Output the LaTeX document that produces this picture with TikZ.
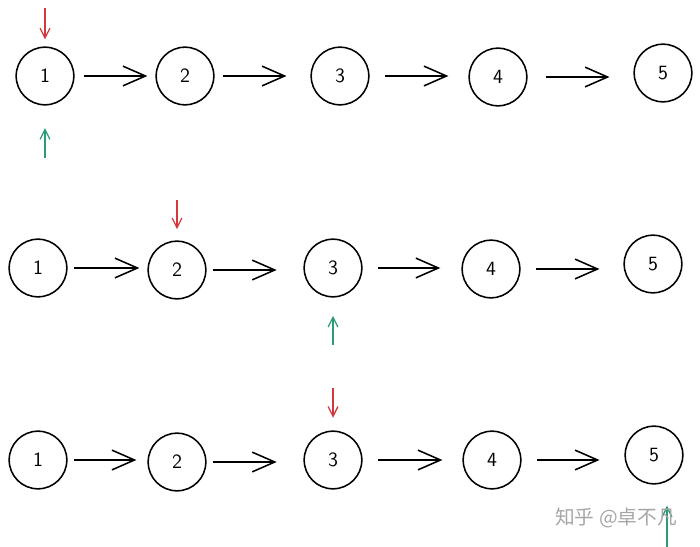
\documentclass[tikz,border=0pt]{standalone}
\usepackage{fontspec}
\newfontfamily\cjkfont{Noto Sans CJK SC}
\usetikzlibrary{arrows.meta}

\definecolor{slowred}{HTML}{D2383D}
\definecolor{fastgreen}{HTML}{2B9B72}

\tikzset{
  listnode/.style={draw, circle, line width=1.1pt, minimum size=41pt, inner sep=0pt, font=\sffamily\Large},
  link/.style={line width=1.1pt, -{Straight Barb[length=16pt,width=14pt,line width=1.1pt]}},
  slowptr/.style={slowred, line width=0.9pt, -{Straight Barb[length=7pt,width=7pt]}},
  fastptr/.style={fastgreen, line width=0.9pt, -{Straight Barb[length=7pt,width=7pt]}},
  wmtext/.style={text=black!35, font=\cjkfont\fontsize{14}{14}\selectfont}
}

\begin{document}
\begin{tikzpicture}[x=0.025cm, y=-0.025cm]
      \useasboundingbox (0,0) rectangle (700,547);%

      % first row
      \node[listnode] (a1) at (45,76) {1};%
      \node[listnode] (a2) at (185,76) {2};%
      \node[listnode] (a3) at (340,76) {3};%
      \node[listnode] (a4) at (498,77) {4};%
      \node[listnode] (a5) at (663,73) {5};%
      \draw[link, shorten <=6.4pt, shorten >=5.7pt] (a1.east) -- (a1.east -| a2.west);%
      \draw[link, shorten <=5.7pt, shorten >=17pt] (a2.east) -- (a2.east -| a3.west);%
      \draw[link, shorten <=11.3pt, shorten >=14.2pt] (a3.east) -- (a3.east -| a4.west);%
      \draw[link, shorten <=12.8pt, shorten >=17pt] (a4.east) -- (a4.east -| a5.west);%
      \coordinate (sa) at (45,8);%
      \coordinate (fa) at (45,158);%
      \draw[slowptr, shorten >=5pt] (sa) -- (a1);%
      \draw[fastptr, shorten >=16pt] (fa) -- (a1);%

      % second row
      \node[listnode] (b1) at (38,268) {1};%
      \node[listnode] (b2) at (177,270) {2};%
      \node[listnode] (b3) at (333,268) {3};%
      \node[listnode] (b4) at (491,269) {4};%
      \node[listnode] (b5) at (653,264) {5};%
      \draw[link, shorten <=4.3pt, shorten >=5.7pt] (b1.east) -- (b1.east -| b2.west);%
      \draw[link, shorten <=4.3pt, shorten >=19pt] (b2.east) -- (b2.east -| b3.west);%
      \draw[link, shorten <=11.3pt, shorten >=15pt] (b3.east) -- (b3.east -| b4.west);%
      \draw[link, shorten <=11.3pt, shorten >=17pt] (b4.east) -- (b4.east -| b5.west);%
      \coordinate (sb) at (177,200);%
      \coordinate (fb) at (333,345);%
      \draw[slowptr, shorten >=8pt] (sb) -- (b2);%
      \draw[fastptr, shorten >=13pt] (fb) -- (b3);%

      % third row
      \node[listnode] (c1) at (38,460) {1};%
      \node[listnode] (c2) at (177,462) {2};%
      \node[listnode] (c3) at (333,460) {3};%
      \node[listnode] (c4) at (492,460) {4};%
      \node[listnode] (c5) at (654,455) {5};%
      \draw[link, shorten <=4.3pt, shorten >=7.8pt] (c1.east) -- (c1.east -| c2.west);%
      \draw[link, shorten <=4.3pt, shorten >=19pt] (c2.east) -- (c2.east -| c3.west);%
      \draw[link, shorten <=11.3pt, shorten >=14.2pt] (c3.east) -- (c3.east -| c4.west);%
      \draw[link, shorten <=11.3pt, shorten >=17.7pt] (c4.east) -- (c4.east -| c5.west);%
      \coordinate (sc) at (333,388);%
      \coordinate (fc) at (667,547);%
      \draw[slowptr, shorten >=9pt] (sc) -- (c3);%
      \draw[fastptr, shorten >=15pt] (fc) -- (fc |- c5.south);%

      \node[wmtext] (wm) at (616,518) {知乎 @卓不凡};%
\end{tikzpicture}
\end{document}
